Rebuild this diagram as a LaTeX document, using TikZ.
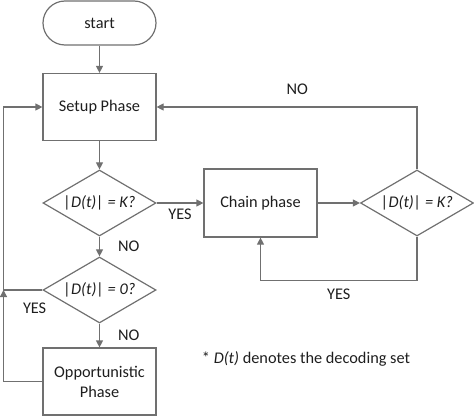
\documentclass[tikz,border=0pt]{standalone}
\usepackage{fontspec}
\setmainfont{Carlito}
\usetikzlibrary{shapes.geometric,arrows.meta}
\definecolor{linegray}{RGB}{112,112,112}
\definecolor{textgray}{RGB}{30,30,30}
\tikzset{
  flow/.style={draw=linegray, line width=1.2pt, -{Triangle[length=7pt,width=7pt]}},
  plain/.style={draw=linegray, line width=1.2pt},
  box/.style={draw=linegray, line width=1.2pt, minimum width=113pt, minimum height=67pt, align=center, inner sep=0pt},
  terminal/.style={draw=linegray, line width=1.2pt, minimum width=113pt, minimum height=44pt, rounded corners=22pt},
  decision/.style={draw=linegray, line width=1.2pt, diamond, aspect=1.71, minimum width=113pt, minimum height=66pt, inner sep=0pt},
  lbl/.style={inner sep=0pt, text=textgray}
}
\begin{document}
\begin{tikzpicture}[x=1pt, y=-1pt, font=\fontsize{16.3}{20}\selectfont, text=textgray]
\useasboundingbox (0,0) rectangle (474,417);
\node[terminal] (start) at (99.5,23) {start};
\node[box] (setup) at (99.5,107) {Setup Phase};
\node[decision] (chkA) at (99.5,203) {\textit{|D(t)| = K?}};
\node[box, minimum height=68pt] (chain) at (260.5,203) {Chain phase};
\node[decision] (chkB) at (417,203) {\textit{|D(t)| = K?}};
\node[decision] (chkC) at (99.5,290) {\textit{|D(t)| = 0?}};
\node[box] (opport) at (99.5,381.5) {Opportunistic\\Phase};
\node[lbl] (note) at (306,359) {* \textit{D(t)} denotes the decoding set};
\coordinate (join) at (3.5,290);
\draw[flow] (start) -- (setup);
\draw[flow] (setup) -- (chkA);
\draw[flow] (chkA) -- node[lbl, below=5pt] {YES} (chain);
\draw[flow] (chain) -- (chkB);
\draw[flow] (chkB.north) |- node[lbl, pos=.73, above=12pt] {NO} (setup.east);
\draw[flow] (chkB.south) -- ++(0,44) -| node[lbl, pos=.25, below=8pt] {YES} (chain.south);
\draw[flow] (chkA) -- node[lbl, right=18pt] {NO} (chkC);
\draw[flow] (chkC) -- node[lbl, right=18pt] {NO} (opport);
\draw[flow] (opport.west) -| (join);
\draw[flow] (chkC.west) -- node[lbl, pos=.2, below=12pt] {YES} (join) |- (setup.west);
\end{tikzpicture}
\end{document}
